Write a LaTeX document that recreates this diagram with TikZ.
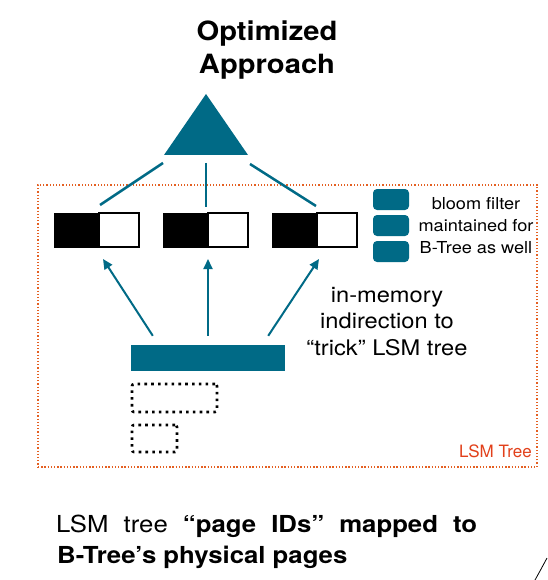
\documentclass[tikz,border=0pt]{standalone}
\usepackage{fontspec}
\setmainfont{TeX Gyre Heros}
\newfontfamily\hv[FakeStretch=1.1]{TeX Gyre Heros}
\usetikzlibrary{arrows.meta,calc}
\definecolor{tealc}{RGB}{0,106,134}
\definecolor{lsmorange}{RGB}{228,96,34}
\definecolor{lsmred}{RGB}{226,64,26}
\begin{document}
\begin{tikzpicture}[x=1pt,y=-1pt,
  tealline/.style={draw=tealc,line width=2.5pt},
  arr/.style={draw=tealc,line width=2pt,-{Triangle[length=10pt,width=9pt]}},
  blkhalf/.style={draw=black,fill=black,line width=1pt,minimum width=45pt,minimum height=34pt,inner sep=0pt,outer sep=0pt},
  whthalf/.style={draw=black,fill=white,line width=1.2pt,minimum width=40pt,minimum height=34pt,inner sep=0pt,outer sep=0pt},
  legendbox/.style={fill=tealc,rounded corners=4pt,minimum width=36pt,minimum height=21pt,inner sep=0pt},
  dotbox/.style={draw=black,line width=2.6pt,dash pattern=on 2.6pt off 4.2pt,rounded corners=2pt,inner sep=0pt},
  lsmbox/.style={draw=lsmorange,line width=1.3pt,dash pattern=on 1.3pt off 1.9pt,inner sep=0pt},
  txt/.style={inner sep=0pt,anchor=base}
]
\useasboundingbox (0,0) rectangle (547,580);
\fill[white] (0,0) rectangle (547,580);

% LSM tree container
\node[lsmbox,minimum width=499pt,minimum height=282pt] (lsm) at (287.5,326) {};
\node[txt,anchor=base east,text=lsmred,font=\fontsize{17}{20}\selectfont] (lsmlabel) at (532,457) {LSM Tree};

% title
\node[txt,font=\hv\fontsize{26.5}{32}\selectfont\bfseries] (t1) at (267,40.3) {Optimized};
\node[txt,font=\hv\fontsize{26.5}{32}\selectfont\bfseries] (t2) at (267,74) {Approach};

% triangle
\coordinate (tA) at (206,94);
\coordinate (tL) at (164,155);
\coordinate (tR) at (248,155);
\coordinate (tM) at (206,155);
\fill[tealc] (tA) -- (tL) -- (tR) -- cycle;

% pages
\node[blkhalf] (b1k) at (76.5,230) {};
\node[whthalf] (b1w) at (119,230) {};
\node[blkhalf] (b2k) at (185.5,230) {};
\node[whthalf] (b2w) at (228,230) {};
\node[blkhalf] (b3k) at (294.5,230) {};
\node[whthalf] (b3w) at (337,230) {};

% lines from triangle
\draw[tealline] ([xshift=-1pt,yshift=-8pt]tL) -- ([xshift=1pt,yshift=8pt]b1k.north east);
\draw[tealline] ([yshift=-8pt]tM) -- ([xshift=-2pt,yshift=6pt]b2k.north east);
\draw[tealline] ([xshift=2pt,yshift=-9pt]tR) -- ([xshift=-1pt,yshift=7pt]b3k.north east);

% legend
\node[legendbox] (l1) at (391,199.5) {};
\node[legendbox] (l2) at (391,225.5) {};
\node[legendbox] (l3) at (391,251.5) {};
\node[txt,font=\hv\fontsize{16.5}{20}\selectfont] (lt1) at (476,209.5) {bloom filter};
\node[txt,font=\hv\fontsize{16.5}{20}\selectfont] (lt2) at (476,231.5) {maintained for};
\node[txt,font=\hv\fontsize{16.5}{20}\selectfont] (lt3) at (476,253.5) {B-Tree as well};

% indirection bar
\node[fill=tealc,minimum width=154pt,minimum height=26pt,inner sep=0pt] (bar) at (208,358) {};
\draw[arr] ([xshift=22pt,yshift=9pt]bar.north west) -- ([xshift=4pt,yshift=-12pt]b1k.south east);
\draw[arr] ([yshift=9pt]bar.north) -- ([yshift=-12pt]b2k.south east);
\draw[arr] ([xshift=-17pt,yshift=9pt]bar.north east) -- ([xshift=2pt,yshift=-12pt]b3k.south east);

\node[txt,font=\hv\fontsize{21.5}{26}\selectfont] (it1) at (387,302) {in-memory};
\node[txt,font=\hv\fontsize{21.5}{26}\selectfont] (it2) at (387,328) {indirection to};
\node[txt,font=\hv\fontsize{21.5}{26}\selectfont] (it3) at (387,355) {“trick” LSM tree};

% dotted boxes
\node[dotbox,minimum width=85pt,minimum height=28pt] (d1) at (174.5,398) {};
\node[dotbox,minimum width=45pt,minimum height=27pt] (d2) at (154.5,438.5) {};

% caption
\node[txt,anchor=base west,font=\hv\fontsize{23.4}{28}\selectfont] (c1) at (56,532) {\makebox[421pt][s]{LSM tree \textbf{“page IDs” mapped to}}};
\node[txt,anchor=base west,font=\hv\fontsize{23.4}{28}\selectfont] (c2) at (57,563) {\textbf{B-Tree’s physical pages}};

% corner curve
\draw[line width=0.8pt] (535,580) .. controls (540,571) .. (547,558);
\end{tikzpicture}
\end{document}
